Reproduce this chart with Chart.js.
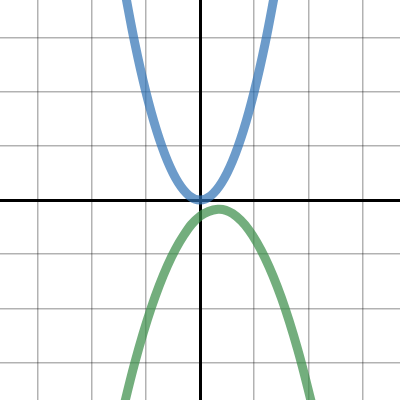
<!DOCTYPE html>
<html>
<head>
<meta charset="utf-8">
<script src="https://cdn.jsdelivr.net/npm/chart.js@4"></script>
<style>
  html, body { margin: 0; padding: 0; background: #fff; }
  #graph { display: block; }
</style>
</head>
<body>
<canvas id="graph" width="400" height="400"></canvas>
<script>
// points (graph units, 1 grid square = 1)
var blueX = [-1.4, -1.2, -1.0, -0.8, -0.6, -0.4, -0.2, 0, 0.2, 0.4, 0.6, 0.8, 1.0, 1.2, 1.4];
var blueY = [3.92, 2.88, 2.0, 1.28, 0.72, 0.32, 0.08, 0, 0.08, 0.32, 0.72, 1.28, 2.0, 2.88, 3.92];

var greenX = [-1.5, -1.2, -0.9, -0.6, -0.3, 0, 0.33, 0.6, 0.9, 1.2, 1.5, 1.8, 2.1];
var greenY = [-4.2, -2.99, -1.99, -1.21, -0.65, -0.3, -0.17, -0.25, -0.55, -1.07, -1.8, -2.75, -3.91];

var viewMin = -3.69;
var viewMax = 3.69;

function toPoints(xs, ys) {
    return xs.map(function (x, i) { return { x: x, y: ys[i] }; });
}

function gridColor(ctx) {
    var v = ctx.tick.value;
    if (v === 0) return '#000';
    if (Math.abs(v - Math.round(v)) > 1e-6) return 'rgba(0,0,0,0)';
    return 'rgba(0,0,0,0.3)';
}
function gridWidth(ctx) {
    return ctx.tick.value === 0 ? 3 : 1.5;
}

function axisOpts() {
    return {
        type: 'linear',
        min: viewMin,
        max: viewMax,
        ticks: { display: false, stepSize: 1, autoSkip: false, includeBounds: false },
        border: { display: false },
        grid: { color: gridColor, lineWidth: gridWidth, drawTicks: false }
    };
}

var graph = document.getElementById('graph').getContext('2d');
var graphChart = new Chart(graph, {
    type: 'scatter',
    data: {
        datasets: [
            {
                label: 'green',
                data: toPoints(greenX, greenY),
                borderColor: 'rgba(56, 140, 70, 0.7)',
                borderWidth: 9,
                showLine: true,
                tension: 0.4,
                pointRadius: 0,
                pointHoverRadius: 0
            },
            {
                label: 'blue',
                data: toPoints(blueX, blueY),
                borderColor: 'rgba(45, 112, 179, 0.7)',
                borderWidth: 9,
                showLine: true,
                tension: 0.4,
                pointRadius: 0,
                pointHoverRadius: 0
            }
        ]
    },
    options: {
        responsive: false,
        animation: false,
        devicePixelRatio: 1,
        layout: { padding: 0 },
        plugins: { legend: { display: false }, tooltip: { enabled: false } },
        scales: { x: axisOpts(), y: axisOpts() }
    }
});
</script>
</body>
</html>
